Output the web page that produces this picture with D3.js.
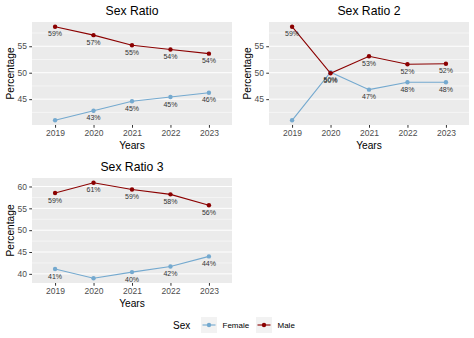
<!DOCTYPE html>
<html>
<head>
<meta charset="utf-8">
<script src="https://cdn.jsdelivr.net/npm/d3@7"></script>
<style>
  body { margin: 0; background: #fff; }
  svg { font-family: "Liberation Sans", Arial, sans-serif; }
</style>
</head>
<body>
<svg id="chart" width="474" height="338"></svg>
<script>
"use strict";

const years = ["2019", "2020", "2021", "2022", "2023"];
const sexes = ["Female", "Male"];

// Sex Ratio
const female1 = [41.0, 42.8, 44.6, 45.4, 46.2];
const male1 = [58.7, 57.1, 55.2, 54.4, 53.6];
// Sex Ratio 2
const female2 = [41.0, 50.1, 46.8, 48.2, 48.2];
const male2 = [58.7, 49.9, 53.1, 51.6, 51.7];
// Sex Ratio 3
const female3 = [41.1, 39.0, 40.4, 41.7, 44.0];
const male3 = [58.5, 60.85, 59.3, 58.2, 55.7];

const ticks12 = [45, 50, 55];
const ticks3 = [40, 45, 50, 55, 60];

const colours = { Female: "#74a9cf", Male: "#8b0000" };

const svg = d3.select("#chart");

function panel(opts) {
    const { title, female, male, ticks, x0, x1, y0, y1, ox, id } = opts;
    const g = svg.append("g");

    const all = female.concat(male);
    const lo = d3.min(all), hi = d3.max(all);
    const pad = (hi - lo) * 0.05;

    const x = d3.scalePoint().domain(years).range([x0, x1]).padding(0.6);
    const y = d3.scaleLinear().domain([lo - pad, hi + pad]).range([y1, y0]);

    // panel background
    g.append("rect")
        .attr("x", x0).attr("y", y0)
        .attr("width", x1 - x0).attr("height", y1 - y0)
        .attr("fill", "#ebebeb");

    // minor grid
    const minor = [];
    for (let i = 0; i < ticks.length - 1; i++) { minor.push((ticks[i] + ticks[i + 1]) / 2); }
    minor.push(ticks[0] - 2.5, ticks[ticks.length - 1] + 2.5);
    g.selectAll(".minor")
        .data(minor.filter(v => v > y.domain()[0] && v < y.domain()[1]))
        .enter().append("line")
        .attr("x1", x0).attr("x2", x1)
        .attr("y1", d => y(d)).attr("y2", d => y(d))
        .attr("stroke", "#fff").attr("stroke-width", 0.5);

    // major grid
    g.selectAll(".major")
        .data(ticks)
        .enter().append("line")
        .attr("x1", x0).attr("x2", x1)
        .attr("y1", d => y(d)).attr("y2", d => y(d))
        .attr("stroke", "#fff").attr("stroke-width", 1);

    // axes
    const yAxis = g.append("g")
        .attr("transform", "translate(" + x0 + ",0)")
        .call(d3.axisLeft(y).tickValues(ticks).tickSize(2.75).tickPadding(2.2));
    const xAxis = g.append("g")
        .attr("transform", "translate(0," + y1 + ")")
        .call(d3.axisBottom(x).tickSize(2.75).tickPadding(2.6));
    [yAxis, xAxis].forEach(a => {
        a.select(".domain").remove();
        a.selectAll("line").attr("stroke", "#333").attr("stroke-width", 1);
        a.selectAll("text").attr("fill", "#4d4d4d").attr("font-size", 8.5)
            .attr("font-family", "Liberation Sans, Arial, sans-serif");
    });

    // clip region (ggplot clips to the panel)
    g.append("clipPath").attr("id", id)
        .append("rect")
        .attr("x", x0).attr("y", y0)
        .attr("width", x1 - x0).attr("height", y1 - y0);
    const plot = g.append("g").attr("clip-path", "url(#" + id + ")");

    const series = [
        { key: "Female", values: female },
        { key: "Male", values: male }
    ];
    const line = d3.line()
        .x((d, i) => x(years[i]))
        .y(d => y(d));

    series.forEach(s => {
        plot.append("path")
            .datum(s.values)
            .attr("d", line)
            .attr("fill", "none")
            .attr("stroke", colours[s.key])
            .attr("stroke-width", 1.1);
        plot.selectAll(".pt-" + s.key)
            .data(s.values)
            .enter().append("circle")
            .attr("cx", (d, i) => x(years[i]))
            .attr("cy", d => y(d))
            .attr("r", 2.2)
            .attr("fill", colours[s.key]);
        // labels that would fall below the panel are clipped away in the original
        plot.selectAll(".lab-" + s.key)
            .data(s.values.map((v, i) => ({ v, i })).filter(d => y(d.v) + 7 < y1))
            .enter().append("text")
            .attr("x", d => x(years[d.i]))
            .attr("y", d => y(d.v) + 9.5)
            .attr("text-anchor", "middle")
            .attr("font-size", 7)
            .attr("fill", "#333")
            .text(d => Math.round(d.v) + "%");
    });

    // titles
    g.append("text")
        .attr("x", (x0 + x1) / 2).attr("y", y0 - 7.5)
        .attr("text-anchor", "middle")
        .attr("font-size", 12.2)
        .attr("fill", "#000")
        .text(title);
    g.append("text")
        .attr("x", (x0 + x1) / 2).attr("y", y1 + 23.5)
        .attr("text-anchor", "middle")
        .attr("font-size", 10.2)
        .attr("fill", "#000")
        .text("Years");
    g.append("text")
        .attr("transform", "translate(" + (ox + 13.5) + "," + ((y0 + y1) / 2) + ") rotate(-90)")
        .attr("text-anchor", "middle")
        .attr("font-size", 10.2)
        .attr("fill", "#000")
        .text("Percentage");
}

panel({ title: "Sex Ratio", female: female1, male: male1, ticks: ticks12,
    x0: 32, x1: 232, y0: 22, y1: 125, ox: 0, id: "clip1" });
panel({ title: "Sex Ratio 2", female: female2, male: male2, ticks: ticks12,
    x0: 269, x1: 469, y0: 22, y1: 125, ox: 237, id: "clip2" });
panel({ title: "Sex Ratio 3", female: female3, male: male3, ticks: ticks3,
    x0: 32, x1: 232, y0: 178, y1: 283, ox: 0, id: "clip3" });

// legend
const legend = svg.append("g").attr("transform", "translate(0,325)");
legend.append("text")
    .attr("x", 173).attr("y", 3.5)
    .attr("font-size", 10)
    .attr("fill", "#000")
    .text("Sex");
const keyX = d3.scaleOrdinal().domain(sexes).range([201, 256]);
const items = legend.selectAll(".item")
    .data(sexes)
    .enter().append("g")
    .attr("transform", d => "translate(" + keyX(d) + ",0)");
items.append("rect")
    .attr("x", 0).attr("y", -8)
    .attr("width", 16).attr("height", 16)
    .attr("fill", "#f2f2f2");
items.append("line")
    .attr("x1", 1.5).attr("x2", 14.5)
    .attr("y1", 0).attr("y2", 0)
    .attr("stroke", d => colours[d]).attr("stroke-width", 1.1);
items.append("circle")
    .attr("cx", 8).attr("cy", 0).attr("r", 2.2)
    .attr("fill", d => colours[d]);
items.append("text")
    .attr("x", 21.5).attr("y", 3)
    .attr("font-size", 8)
    .attr("fill", "#000")
    .text(d => d);
</script>
</body>
</html>
